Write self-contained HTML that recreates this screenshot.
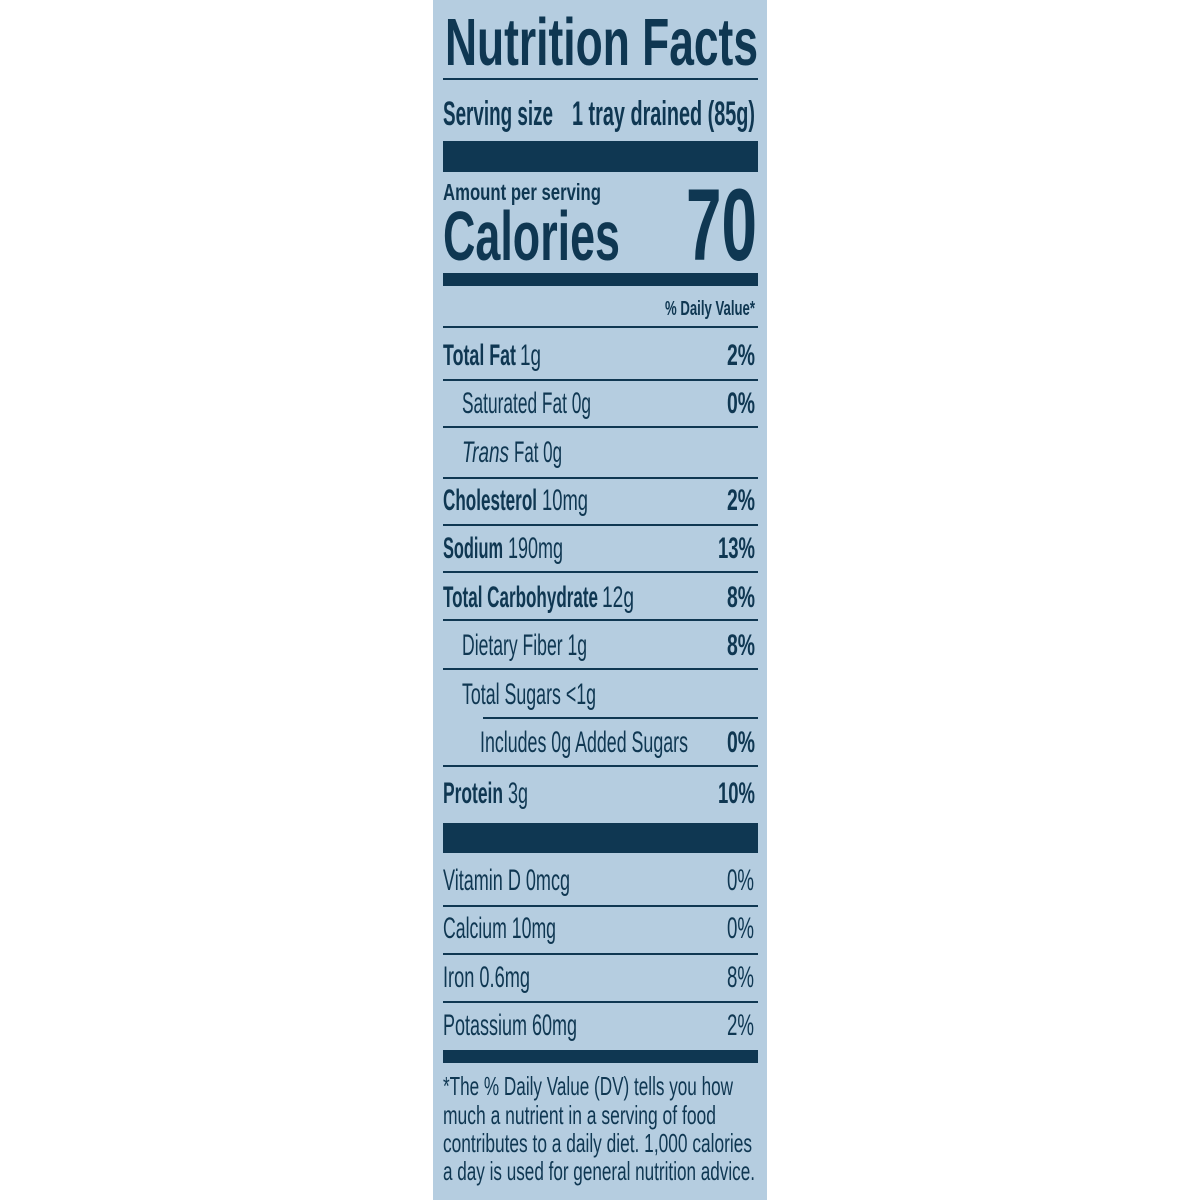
<!DOCTYPE html>
<html><head><meta charset="utf-8"><style>html,body{margin:0;padding:0;background:#fff}svg{display:block}</style></head><body>
<svg width="1200" height="1200" viewBox="0 0 1200 1200" xmlns="http://www.w3.org/2000/svg" font-family="Liberation Sans, sans-serif" fill="#0f3752">
<rect x="0" y="0" width="1200" height="1200" fill="#fff"/>
<rect x="433" y="0" width="334" height="1200" fill="#b5cde0"/>
<g fill="#0f3752">
<text x="445" y="65" font-size="67" font-weight="bold" textLength="313" lengthAdjust="spacingAndGlyphs">Nutrition Facts</text>
<rect x="443" y="78" width="315" height="2"/>
<text x="443" y="125" font-size="34" font-weight="bold" textLength="110" lengthAdjust="spacingAndGlyphs">Serving size</text>
<text x="572" y="125" font-size="34" font-weight="bold" textLength="183" lengthAdjust="spacingAndGlyphs">1 tray drained (85g)</text>
<rect x="443" y="141" width="315" height="31"/>
<text x="443" y="200" font-size="23" font-weight="bold" textLength="158" lengthAdjust="spacingAndGlyphs">Amount per serving</text>
<text x="443" y="260" font-size="70" font-weight="bold" textLength="177" lengthAdjust="spacingAndGlyphs">Calories</text>
<text x="686" y="260" font-size="102" font-weight="bold" textLength="71" lengthAdjust="spacingAndGlyphs">70</text>
<rect x="443" y="273" width="315" height="13"/>
<text x="665" y="315" font-size="20" font-weight="bold" textLength="90" lengthAdjust="spacingAndGlyphs">% Daily Value*</text>
<rect x="443" y="326" width="315" height="2"/>

<text x="443" y="365" font-size="30" font-weight="bold" textLength="73" lengthAdjust="spacingAndGlyphs">Total Fat</text>
<text x="520" y="365" font-size="30" textLength="21" lengthAdjust="spacingAndGlyphs">1g</text>
<text x="727" y="365" font-size="30" font-weight="bold" textLength="28" lengthAdjust="spacingAndGlyphs">2%</text>
<rect x="443" y="379" width="315" height="2"/>

<text x="462" y="413" font-size="30" textLength="129" lengthAdjust="spacingAndGlyphs">Saturated Fat 0g</text>
<text x="727" y="413" font-size="30" font-weight="bold" textLength="28" lengthAdjust="spacingAndGlyphs">0%</text>
<rect x="443" y="426" width="315" height="2"/>

<text x="462" y="462" font-size="30" font-style="italic" textLength="47" lengthAdjust="spacingAndGlyphs">Trans</text>
<text x="514" y="462" font-size="30" textLength="48" lengthAdjust="spacingAndGlyphs">Fat 0g</text>
<rect x="443" y="477" width="315" height="2"/>

<text x="443" y="510" font-size="30" font-weight="bold" textLength="94" lengthAdjust="spacingAndGlyphs">Cholesterol</text>
<text x="542" y="510" font-size="30" textLength="46" lengthAdjust="spacingAndGlyphs">10mg</text>
<text x="727" y="510" font-size="30" font-weight="bold" textLength="28" lengthAdjust="spacingAndGlyphs">2%</text>
<rect x="443" y="524" width="315" height="2"/>

<text x="443" y="558" font-size="30" font-weight="bold" textLength="60" lengthAdjust="spacingAndGlyphs">Sodium</text>
<text x="508" y="558" font-size="30" textLength="55" lengthAdjust="spacingAndGlyphs">190mg</text>
<text x="718" y="558" font-size="30" font-weight="bold" textLength="37" lengthAdjust="spacingAndGlyphs">13%</text>
<rect x="443" y="571" width="315" height="2"/>

<text x="443" y="607" font-size="30" font-weight="bold" textLength="155" lengthAdjust="spacingAndGlyphs">Total Carbohydrate</text>
<text x="602" y="607" font-size="30" textLength="32" lengthAdjust="spacingAndGlyphs">12g</text>
<text x="727" y="607" font-size="30" font-weight="bold" textLength="28" lengthAdjust="spacingAndGlyphs">8%</text>
<rect x="443" y="619" width="315" height="2"/>

<text x="462" y="655" font-size="30" textLength="125" lengthAdjust="spacingAndGlyphs">Dietary Fiber 1g</text>
<text x="727" y="655" font-size="30" font-weight="bold" textLength="28" lengthAdjust="spacingAndGlyphs">8%</text>
<rect x="443" y="668" width="315" height="2"/>

<text x="462" y="704" font-size="30" textLength="134" lengthAdjust="spacingAndGlyphs">Total Sugars &lt;1g</text>
<rect x="483" y="717" width="275" height="2"/>

<text x="480" y="752" font-size="30" textLength="208" lengthAdjust="spacingAndGlyphs">Includes 0g Added Sugars</text>
<text x="727" y="752" font-size="30" font-weight="bold" textLength="28" lengthAdjust="spacingAndGlyphs">0%</text>
<rect x="443" y="765" width="315" height="2"/>

<text x="443" y="803" font-size="30" font-weight="bold" textLength="60" lengthAdjust="spacingAndGlyphs">Protein</text>
<text x="508" y="803" font-size="30" textLength="20" lengthAdjust="spacingAndGlyphs">3g</text>
<text x="718" y="803" font-size="30" font-weight="bold" textLength="37" lengthAdjust="spacingAndGlyphs">10%</text>
<rect x="443" y="823" width="315" height="30"/>

<text x="443" y="890" font-size="30" textLength="127" lengthAdjust="spacingAndGlyphs">Vitamin D 0mcg</text>
<text x="727" y="890" font-size="30" textLength="27" lengthAdjust="spacingAndGlyphs">0%</text>
<rect x="443" y="905" width="315" height="2"/>
<text x="443" y="938" font-size="30" textLength="113" lengthAdjust="spacingAndGlyphs">Calcium 10mg</text>
<text x="727" y="938" font-size="30" textLength="27" lengthAdjust="spacingAndGlyphs">0%</text>
<rect x="443" y="953" width="315" height="2"/>
<text x="443" y="987" font-size="30" textLength="87" lengthAdjust="spacingAndGlyphs">Iron 0.6mg</text>
<text x="727" y="987" font-size="30" textLength="27" lengthAdjust="spacingAndGlyphs">8%</text>
<rect x="443" y="1001" width="315" height="2"/>
<text x="443" y="1035" font-size="30" textLength="134" lengthAdjust="spacingAndGlyphs">Potassium 60mg</text>
<text x="727" y="1035" font-size="30" textLength="27" lengthAdjust="spacingAndGlyphs">2%</text>
<rect x="443" y="1050" width="315" height="13"/>

<text x="443" y="1095" font-size="26" textLength="290" lengthAdjust="spacingAndGlyphs">*The % Daily Value (DV) tells you how</text>
<text x="443" y="1124" font-size="26" textLength="273" lengthAdjust="spacingAndGlyphs">much a nutrient in a serving of food</text>
<text x="443" y="1152" font-size="26" textLength="309" lengthAdjust="spacingAndGlyphs">contributes to a daily diet. 1,000 calories</text>
<text x="443" y="1180" font-size="26" textLength="312" lengthAdjust="spacingAndGlyphs">a day is used for general nutrition advice.</text>
</g>
</svg>
</body></html>
